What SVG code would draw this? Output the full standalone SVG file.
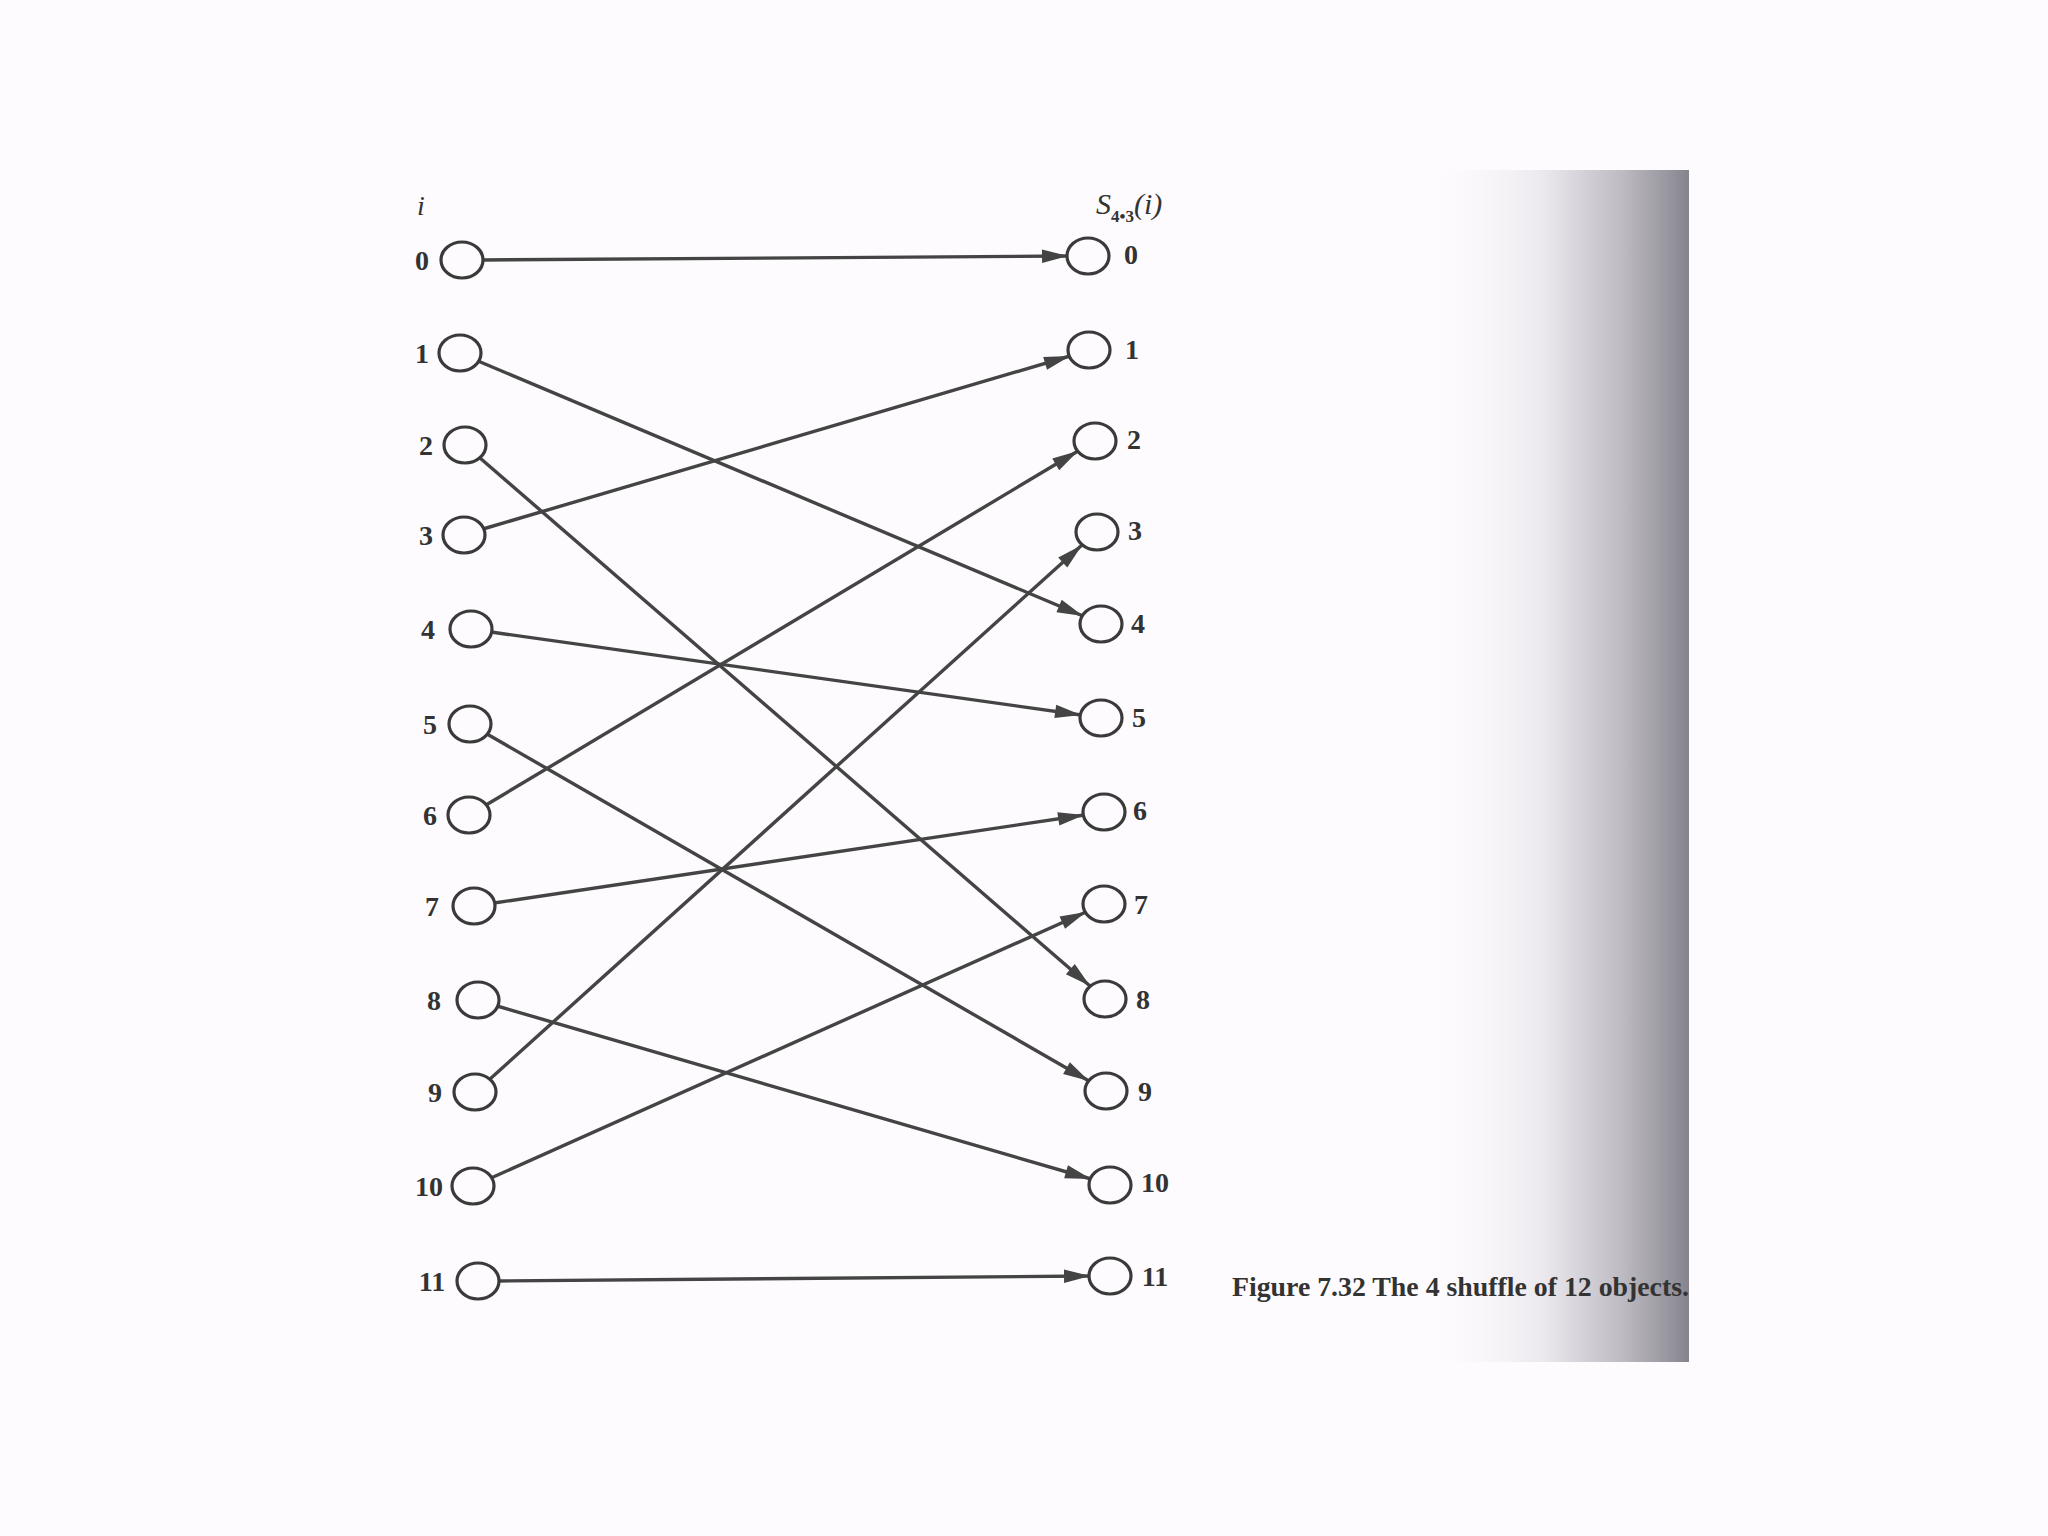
<svg xmlns="http://www.w3.org/2000/svg" width="2048" height="1536" viewBox="0 0 2048 1536">
<style>
.nd{fill:none;stroke:#3a3a3a;stroke-width:3.2}
.lb{font-family:"Liberation Serif",serif;font-size:28px;font-weight:bold;fill:#333}
.ed{stroke:#444;stroke-width:3.4;fill:none;marker-end:url(#ah)}
.hd{font-family:"Liberation Serif",serif;font-style:italic;fill:#333}
</style>
<defs>
<marker id="ah" viewBox="0 0 10 10" refX="10" refY="5" markerWidth="9" markerHeight="9" markerUnits="userSpaceOnUse" orient="auto" style="overflow:visible">
<path d="M0,0 L10,5 L0,10 z" fill="#444" transform="scale(2.9,1.5) translate(-6.5,-1.65)"/>
</marker>
<linearGradient id="pg" x1="0" y1="0" x2="1" y2="0">
<stop offset="0" stop-color="#fdfbfd" stop-opacity="0"/>
<stop offset="0.45" stop-color="#ebe8ee"/>
<stop offset="0.75" stop-color="#bdbac2"/>
<stop offset="0.92" stop-color="#98969e"/>
<stop offset="1" stop-color="#85838b"/>
</linearGradient>
</defs>
<rect width="2048" height="1536" fill="#fdfbfd"/>
<rect x="1424" y="170" width="265" height="1192" fill="url(#pg)"/>

<text class="hd" x="417" y="215" font-size="28">i</text>
<text class="hd" x="1096" y="214" font-size="30">S<tspan font-size="17" dy="8" font-style="normal" font-weight="bold">4•3</tspan><tspan dy="-8">(i)</tspan></text>

<g id="connectors">
<line class="ed" x1="482" y1="260" x2="1068" y2="256"/>
<line class="ed" x1="478" y1="361" x2="1083" y2="616"/>
<line class="ed" x1="480" y1="458" x2="1090" y2="986"/>
<line class="ed" x1="483" y1="529" x2="1070" y2="356"/>
<line class="ed" x1="491" y1="632" x2="1081" y2="715"/>
<line class="ed" x1="487" y1="734" x2="1089" y2="1081"/>
<line class="ed" x1="486" y1="805" x2="1078" y2="451"/>
<line class="ed" x1="494" y1="903" x2="1084" y2="815"/>
<line class="ed" x1="497" y1="1006" x2="1091" y2="1179"/>
<line class="ed" x1="490" y1="1079" x2="1082" y2="545"/>
<line class="ed" x1="491" y1="1178" x2="1086" y2="912"/>
<line class="ed" x1="498" y1="1281" x2="1090" y2="1276"/>
</g>

<g id="left-nodes" text-anchor="middle">
<g id="L0"><ellipse class="nd" cx="462" cy="260" rx="21" ry="18"/><text class="lb" x="422" y="270">0</text></g>
<g id="L1"><ellipse class="nd" cx="460" cy="353" rx="21" ry="18"/><text class="lb" x="422" y="363">1</text></g>
<g id="L2"><ellipse class="nd" cx="465" cy="445" rx="21" ry="18"/><text class="lb" x="426" y="455">2</text></g>
<g id="L3"><ellipse class="nd" cx="464" cy="535" rx="21" ry="18"/><text class="lb" x="426" y="545">3</text></g>
<g id="L4"><ellipse class="nd" cx="471" cy="629" rx="21" ry="18"/><text class="lb" x="428" y="639">4</text></g>
<g id="L5"><ellipse class="nd" cx="470" cy="724" rx="21" ry="18"/><text class="lb" x="430" y="734">5</text></g>
<g id="L6"><ellipse class="nd" cx="469" cy="815" rx="21" ry="18"/><text class="lb" x="430" y="825">6</text></g>
<g id="L7"><ellipse class="nd" cx="474" cy="906" rx="21" ry="18"/><text class="lb" x="432" y="916">7</text></g>
<g id="L8"><ellipse class="nd" cx="478" cy="1000" rx="21" ry="18"/><text class="lb" x="434" y="1010">8</text></g>
<g id="L9"><ellipse class="nd" cx="475" cy="1092" rx="21" ry="18"/><text class="lb" x="435" y="1102">9</text></g>
<g id="L10"><ellipse class="nd" cx="473" cy="1186" rx="21" ry="18"/><text class="lb" x="429" y="1196">10</text></g>
<g id="L11"><ellipse class="nd" cx="478" cy="1281" rx="21" ry="18"/><text class="lb" x="432" y="1291">11</text></g>
</g>

<g id="right-nodes" text-anchor="middle">
<g id="R0"><ellipse class="nd" cx="1088" cy="256" rx="21" ry="18"/><text class="lb" x="1131" y="264">0</text></g>
<g id="R1"><ellipse class="nd" cx="1089" cy="350" rx="21" ry="18"/><text class="lb" x="1132" y="359">1</text></g>
<g id="R2"><ellipse class="nd" cx="1095" cy="441" rx="21" ry="18"/><text class="lb" x="1134" y="449">2</text></g>
<g id="R3"><ellipse class="nd" cx="1097" cy="532" rx="21" ry="18"/><text class="lb" x="1135" y="540">3</text></g>
<g id="R4"><ellipse class="nd" cx="1101" cy="624" rx="21" ry="18"/><text class="lb" x="1138" y="633">4</text></g>
<g id="R5"><ellipse class="nd" cx="1101" cy="718" rx="21" ry="18"/><text class="lb" x="1139" y="727">5</text></g>
<g id="R6"><ellipse class="nd" cx="1104" cy="812" rx="21" ry="18"/><text class="lb" x="1140" y="820">6</text></g>
<g id="R7"><ellipse class="nd" cx="1104" cy="904" rx="21" ry="18"/><text class="lb" x="1141" y="914">7</text></g>
<g id="R8"><ellipse class="nd" cx="1105" cy="999" rx="21" ry="18"/><text class="lb" x="1143" y="1009">8</text></g>
<g id="R9"><ellipse class="nd" cx="1106" cy="1091" rx="21" ry="18"/><text class="lb" x="1145" y="1101">9</text></g>
<g id="R10"><ellipse class="nd" cx="1110" cy="1185" rx="21" ry="18"/><text class="lb" x="1155" y="1192">10</text></g>
<g id="R11"><ellipse class="nd" cx="1110" cy="1276" rx="21" ry="18"/><text class="lb" x="1155" y="1286">11</text></g>
</g>

<text x="1232" y="1296" font-family="'Liberation Serif',serif" font-weight="bold" font-size="27" fill="#333" textLength="457" lengthAdjust="spacingAndGlyphs">Figure 7.32  The 4 shuffle of 12 objects.</text>
</svg>
